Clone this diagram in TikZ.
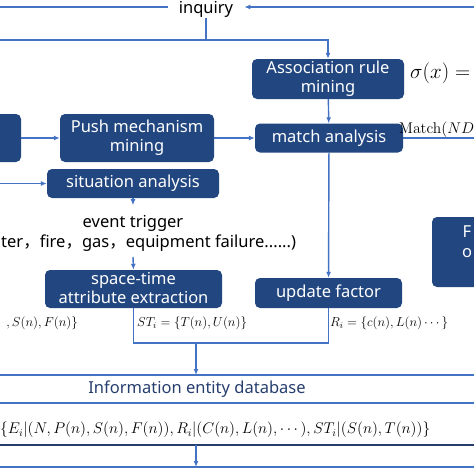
\RequirePackage{fix-cm}
\documentclass[tikz,border=0pt]{standalone}
\usepackage[no-math]{fontspec}
\setmainfont{Noto Sans}
\newfontfamily\cjk{Noto Sans CJK SC}
\usepackage{amsmath, amssymb}
\usetikzlibrary{arrows.meta, positioning, calc}
\definecolor{boxnavy}{RGB}{33, 70, 128}
\definecolor{flowblue}{RGB}{68, 114, 196}
\definecolor{dbnavy}{RGB}{38, 62, 110}
\newcommand{\boxfont}{\fontsize{16.5}{19}\selectfont}

\begin{document}
\begin{tikzpicture}[x=1pt, y=-1pt,
    procbox/.style={fill=boxnavy, rounded corners=5pt, text=white, font=\boxfont, align=center, inner sep=2pt},
    flow/.style={draw=flowblue, line width=1.4pt, -{Latex[length=6pt, width=5pt]}},
    plain/.style={draw=flowblue, line width=1.4pt},
    mathlbl/.style={font=\fontsize{13}{15}\selectfont, inner sep=0pt}]
  \useasboundingbox (0,0) rectangle (474,474);
  \clip (0,0) rectangle (474,474);

  % Inquiry
  \node[font=\boxfont, inner xsep=11pt, inner ysep=1pt] (inq) at (206,9) {inquiry};
  \coordinate (inqL) at (0,7);
  \coordinate (inqR) at (474,7);
  \coordinate (inqbar) at (0,40);

  % Boxes
  \node[procbox, minimum width=152pt, minimum height=40pt] (assoc) at (328,79) {Association rule\\mining};
  \node[procbox, minimum width=148pt, minimum height=29pt] (match) at (329,138) {match analysis};
  \node[procbox, minimum width=154pt, minimum height=48pt] (push) at (137,138) {Push mechanism\\mining};
  \node[procbox, minimum width=60pt, minimum height=48pt] (source) at (-9,138) {};
  \node[procbox, minimum width=172pt, minimum height=29pt] (situ) at (133,183.5) {situation analysis};
  \node[procbox, minimum width=177pt, minimum height=38pt, text depth=2pt] (stx) at (133.5,289) {space-time\\attribute extraction};
  \node[procbox, minimum width=147pt, minimum height=30pt] (upd) at (328.5,293) {update factor};
  \node[procbox, minimum width=76pt, minimum height=70pt] (feed) at (470,252) {};
  \node[font=\fontsize{16.5}{20}\selectfont, text=white, align=center, inner sep=0pt] (feedtxt) at (467,242) {F\\o};

  % Event trigger
  \node[font=\boxfont, inner sep=1pt] (evt) at (133,223) {event trigger};
  \node[font=\boxfont, inner sep=1pt, anchor=west] (evlist) at (0,243) {ter{\cjk ，}fire{\cjk ，}gas{\cjk ，}equipment failure......)};

  % Formulas
  \node[font=\fontsize{21}{23}\selectfont, anchor=west, inner sep=0pt] (sigma) at (410,73) {$\sigma(x)=$};
  \node[font=\fontsize{15.5}{17}\selectfont, anchor=base west, inner sep=0pt] (matchf) at (399,133) {$\mathrm{Match}(ND$};
  \node[mathlbl, anchor=east] (elbl) at (78,323) {$,S(n),F(n)\}$};
  \node[mathlbl, anchor=west] (stlbl) at (137,323) {$ST_i=\{T(n),U(n)\}$};
  \node[mathlbl, anchor=west] (rlbl) at (330,323) {$R_i=\{c(n),L(n)\cdots\}$};

  % Connectors
  \draw[plain] (inqL) -- (inqL -| inq.west);
  \draw[flow] (inqR) -- (inqR -| inq.east);
  \draw[plain] (inq.south) -- (inq.south |- inqbar);
  \draw[flow] (inqbar) -| (assoc.north);
  \draw[flow] (assoc) -- (match);
  \draw[flow] (source) -- (push);
  \draw[flow] (push) -- (match);
  \coordinate (matchR) at (474,138);
  \draw[plain] (match.east) -- (matchR);
  \coordinate (situL) at (0,183.5);
  \draw[flow] (situL) -- (situ.west);
  \draw[flow] (situ.south) -- ++(0,7);
  \draw[flow] (133,257) -- (stx.north);
  \draw[flow] (match) -- (upd);

  % Merge to database
  \coordinate (merge) at (196,343);
  \coordinate (dbtop) at (196,375);
  \coordinate (dbbot) at (196,445);
  \coordinate (dbend) at (196,467);
  \draw[plain] (stx.south) |- (merge) -| (upd.south);
  \draw[flow] (merge) -- (dbtop);

  % Information entity database
  \draw[plain] (0,375) -- (474,375);
  \draw[plain] (0,403) -- (474,403);
  \draw[draw=dbnavy, line width=1.8pt] (0,445) -- (474,445);
  \draw[plain] (0,467) -- (474,467);
  \node[font=\boxfont, text=dbnavy] (dbname) at (197,389) {Information entity database};
  \node[font=\fontsize{15.5}{17}\selectfont, anchor=west, inner sep=0pt] (dbrec) at (0,430) {$\{E_i|(N,P(n),S(n),F(n)),R_i|(C(n),L(n),\cdots),ST_i|(S(n),T(n))\}$};
  \draw[flow] (dbbot) -- (dbend);
\end{tikzpicture}
\end{document}
